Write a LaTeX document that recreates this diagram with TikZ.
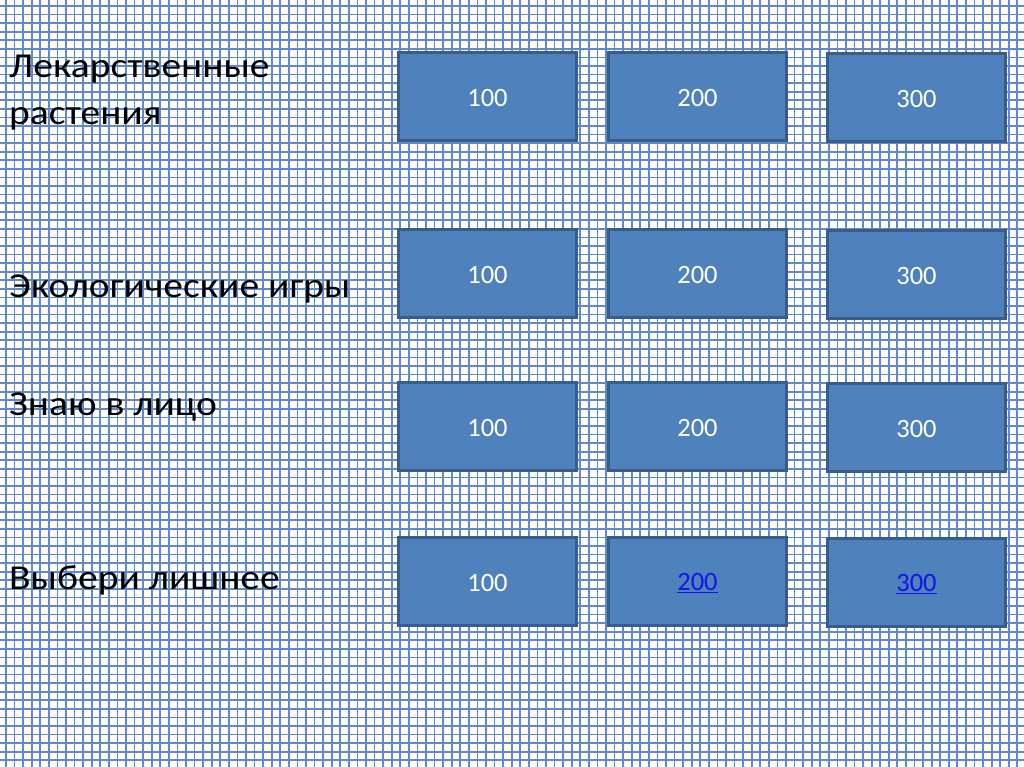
\documentclass[tikz,border=0pt]{standalone}
\usepackage{fontspec}
\setmainfont{Carlito}
\newfontfamily\catfont[FakeStretch=1.13]{Carlito}
\definecolor{gridblue}{RGB}{98,138,202}
\definecolor{boxfill}{RGB}{79,129,189}
\definecolor{boxedge}{RGB}{56,93,138}
\definecolor{linkblue}{RGB}{20,20,235}
\tikzset{
  tile/.style={draw=boxedge, line width=2.5pt, fill=boxfill, minimum width=178pt, minimum height=88pt, inner sep=0pt, text=white, font=\fontsize{26.5}{31}\selectfont},
  tiletext/.style={anchor=center, inner sep=0pt, text=white, font=\fontsize{26.5}{31}\selectfont, yshift=-1.5pt},
  linktext/.style={tiletext, text=linkblue},
  cat/.style={anchor=base west, inner sep=0pt, font=\catfont\fontsize{35}{42}\selectfont, text=black},
  gridline/.style={draw=gridblue, line width=1.8pt}
}
\newcommand{\ul}[1]{\underline{#1}}
\begin{document}
\begin{tikzpicture}[x=1pt,y=-1pt]
\useasboundingbox (0,0) rectangle (1024,767);
\fill[white] (0,0) rectangle (1024,767);
\foreach \i in {0,...,119} {
  \draw[gridline] ({6+\i*8.571},0) -- ({6+\i*8.571},767);
}
\foreach \j in {0,...,89} {
  \draw[gridline] (0,{6+\j*8.571}) -- (1024,{6+\j*8.571});
}
% category labels
\node[cat] (l1a) at (9,78) {Лекарственные};
\node[cat] (l1b) at (9,125) {растения};
\node[cat] (l2) at (9,297) {Экологические игры};
\node[cat] (l3) at (9,415) {Знаю в лицо};
\node[cat] (l4) at (9,589) {Выбери лишнее};
% tiles
\foreach \r/\y/\yy in {1/96.5/97.5, 2/273.5/274.5, 3/426.5/427.5, 4/581.5/582.5} {
  \node[tile] (b\r1) at (487.5,\y) {};
  \node[tile] (b\r2) at (697.5,\y) {};
  \node[tile] (b\r3) at (916.5,\yy) {};
}
\node[tiletext] (t11) at (b11.center) {100};
\node[tiletext] (t12) at (b12.center) {200};
\node[tiletext] (t13) at (b13.center) {300};
\node[tiletext] (t21) at (b21.center) {100};
\node[tiletext] (t22) at (b22.center) {200};
\node[tiletext] (t23) at (b23.center) {300};
\node[tiletext] (t31) at (b31.center) {100};
\node[tiletext] (t32) at (b32.center) {200};
\node[tiletext] (t33) at (b33.center) {300};
\node[tiletext] (t41) at (b41.center) {100};
\node[linktext] (t42) at (b42.center) {\ul{200}};
\node[linktext] (t43) at (b43.center) {\ul{300}};
\end{tikzpicture}
\end{document}
